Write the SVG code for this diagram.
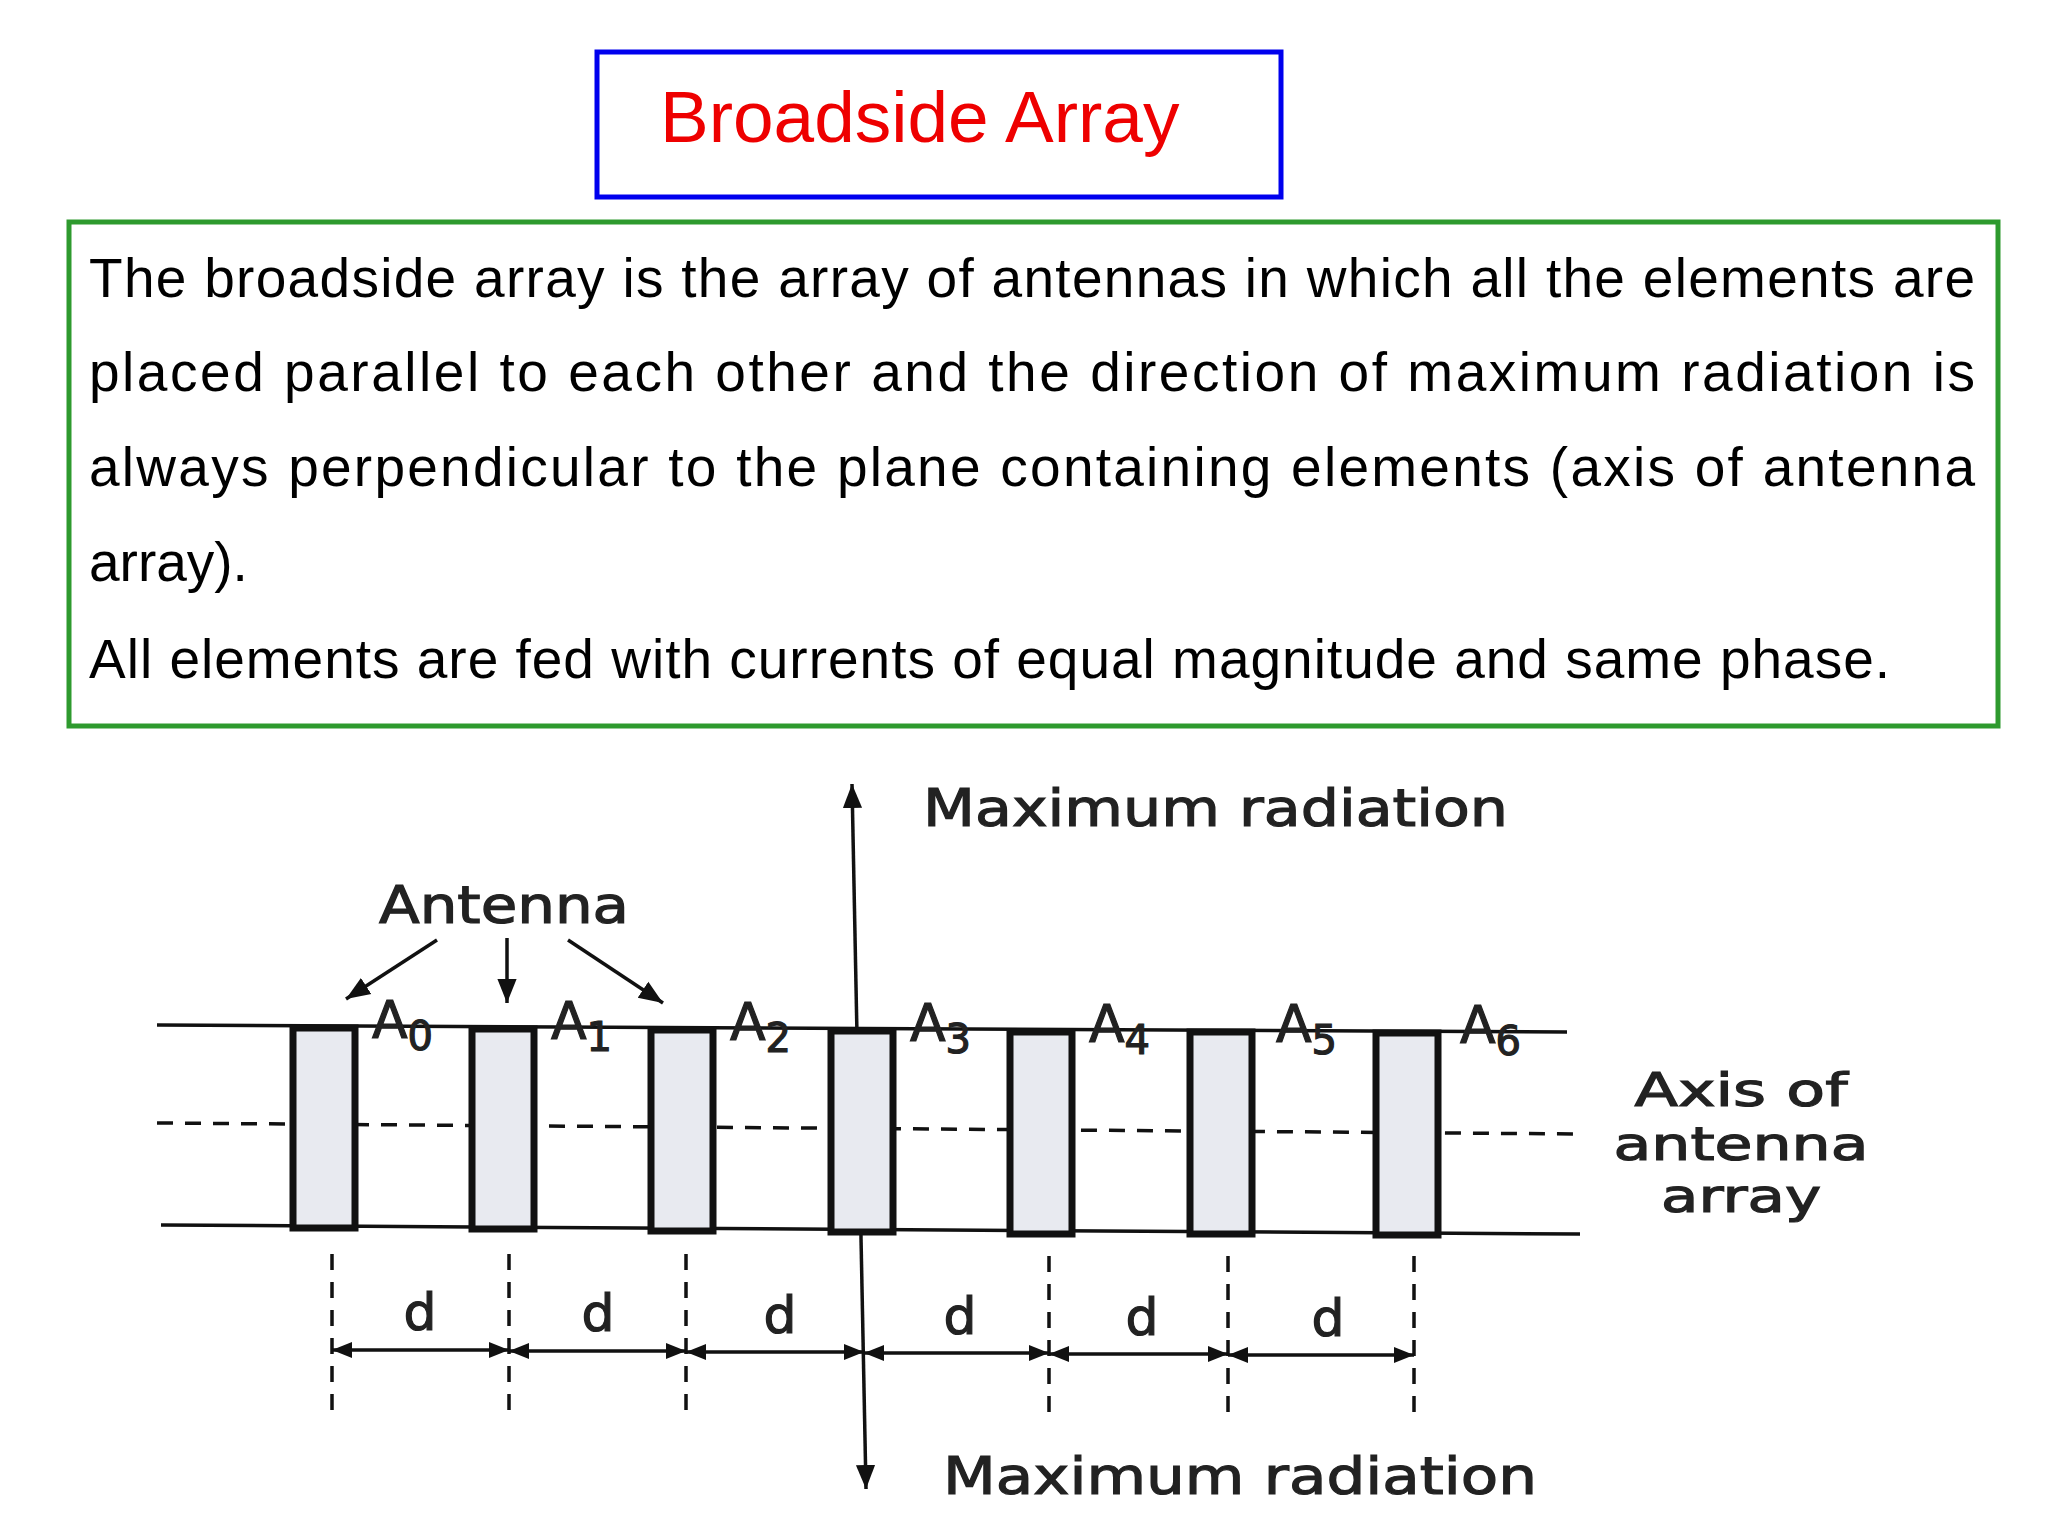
<svg xmlns="http://www.w3.org/2000/svg" width="2048" height="1536" viewBox="0 0 2048 1536">
<defs>
<marker id="ah" viewBox="0 0 10 10" refX="10" refY="5" markerWidth="24" markerHeight="20" markerUnits="userSpaceOnUse" orient="auto-start-reverse"><path d="M0,1 L10,5 L0,9 Z" fill="#111"/></marker>
<marker id="ab" viewBox="0 0 10 10" refX="10" refY="5" markerWidth="24" markerHeight="24" markerUnits="userSpaceOnUse" orient="auto-start-reverse"><path d="M0,1 L10,5 L0,9 Z" fill="#111"/></marker>
</defs>
<style>
.t{font-family:"Liberation Sans",Arial,sans-serif;font-size:55px;fill:#000}
.d{font-family:"DejaVu Sans",sans-serif;font-size:52px;fill:#222;stroke:#222;stroke-width:1.2}
.a{font-size:46px}
.s{font-family:"DejaVu Sans",sans-serif;font-size:40px}
.ln{stroke:#111;stroke-width:3.5;fill:none}
.ds{stroke:#111;stroke-width:3.5;fill:none;stroke-dasharray:16,12}
.el{fill:#e8eaf0;stroke:#111;stroke-width:7}
</style>
<rect width="2048" height="1536" fill="#fff"/>
<g id="title"><rect x="597" y="52" width="684" height="145" fill="none" stroke="#0000ee" stroke-width="5"/>
<text x="660" y="142" font-family="Liberation Sans,Arial,sans-serif" font-size="73" fill="#ee0000">Broadside Array</text></g>
<g id="desc"><rect x="69" y="222" width="1929" height="504" fill="none" stroke="#2e9a2e" stroke-width="5"/>
<text class="t" x="89" y="297" textLength="1886" lengthAdjust="spacing">The broadside array is the array of antennas in which all the elements are</text>
<text class="t" x="89" y="391" textLength="1886" lengthAdjust="spacing">placed parallel to each other and the direction of maximum radiation is</text>
<text class="t" x="89" y="486" textLength="1886" lengthAdjust="spacing">always perpendicular to the plane containing elements (axis of antenna</text>
<text class="t" x="89" y="581">array).</text>
<text class="t" x="89" y="678" textLength="1801" lengthAdjust="spacing">All elements are fed with currents of equal magnitude and same phase.</text></g>
<g id="connectors">
<line class="ln" x1="157" y1="1025" x2="1567" y2="1032"/>
<line class="ln" x1="161" y1="1225" x2="1580" y2="1234"/>
<line class="ds" x1="157" y1="1123" x2="1580" y2="1134"/>
<line class="ln" x1="866" y1="1489" x2="852" y2="784" marker-start="url(#ab)" marker-end="url(#ab)"/>
<line class="ln" x1="437" y1="940" x2="346" y2="999" marker-end="url(#ab)"/>
<line class="ln" x1="507" y1="938" x2="507" y2="1003" marker-end="url(#ab)"/>
<line class="ln" x1="568" y1="940" x2="663" y2="1003" marker-end="url(#ab)"/>
<g class="ds"><line x1="332" y1="1254" x2="332" y2="1410"/><line x1="509" y1="1254" x2="509" y2="1410"/><line x1="686" y1="1254" x2="686" y2="1412"/><line x1="1049" y1="1256" x2="1049" y2="1414"/><line x1="1228" y1="1256" x2="1228" y2="1414"/><line x1="1414" y1="1256" x2="1414" y2="1414"/></g>
<g class="ln"><line x1="332" y1="1350" x2="509" y2="1350" marker-start="url(#ah)" marker-end="url(#ah)"/><line x1="509" y1="1351" x2="686" y2="1351" marker-start="url(#ah)" marker-end="url(#ah)"/><line x1="686" y1="1352" x2="864" y2="1352" marker-start="url(#ah)" marker-end="url(#ah)"/><line x1="864" y1="1353" x2="1049" y2="1353" marker-start="url(#ah)" marker-end="url(#ah)"/><line x1="1049" y1="1354" x2="1228" y2="1354" marker-start="url(#ah)" marker-end="url(#ah)"/><line x1="1228" y1="1355" x2="1414" y2="1355" marker-start="url(#ah)" marker-end="url(#ah)"/></g>
</g>
<g id="elements">
<rect class="el" x="293" y="1028" width="62" height="200"/>
<rect class="el" x="472" y="1029" width="62" height="200"/>
<rect class="el" x="651" y="1030" width="62" height="201"/>
<rect class="el" x="831" y="1031" width="62" height="201"/>
<rect class="el" x="1010" y="1032" width="62" height="202"/>
<rect class="el" x="1190" y="1032" width="62" height="202"/>
<rect class="el" x="1376" y="1033" width="62" height="202"/>
</g>
<g id="labels">
<text class="d" x="372" y="1038">A<tspan class="s" dy="12">0</tspan></text>
<text class="d" x="551" y="1039">A<tspan class="s" dy="12">1</tspan></text>
<text class="d" x="730" y="1040">A<tspan class="s" dy="12">2</tspan></text>
<text class="d" x="910" y="1041">A<tspan class="s" dy="12">3</tspan></text>
<text class="d" x="1089" y="1042">A<tspan class="s" dy="12">4</tspan></text>
<text class="d" x="1276" y="1042">A<tspan class="s" dy="12">5</tspan></text>
<text class="d" x="1460" y="1043">A<tspan class="s" dy="12">6</tspan></text>
<text class="d" x="379" y="923" textLength="250" lengthAdjust="spacingAndGlyphs">Antenna</text>
<text class="d" x="923" y="826" textLength="585" lengthAdjust="spacingAndGlyphs">Maximum radiation</text>
<text class="d" x="943" y="1494" textLength="594" lengthAdjust="spacingAndGlyphs">Maximum radiation</text>
<g text-anchor="middle"><text class="d a" x="1741" y="1106" textLength="213" lengthAdjust="spacingAndGlyphs">Axis of</text><text class="d a" x="1741" y="1160" textLength="255" lengthAdjust="spacingAndGlyphs">antenna</text><text class="d a" x="1741" y="1212" textLength="160" lengthAdjust="spacingAndGlyphs">array</text>
<text class="d" x="420" y="1330">d</text><text class="d" x="598" y="1331">d</text><text class="d" x="780" y="1333">d</text><text class="d" x="960" y="1334">d</text><text class="d" x="1142" y="1335">d</text><text class="d" x="1328" y="1336">d</text></g>
</g>
</svg>
